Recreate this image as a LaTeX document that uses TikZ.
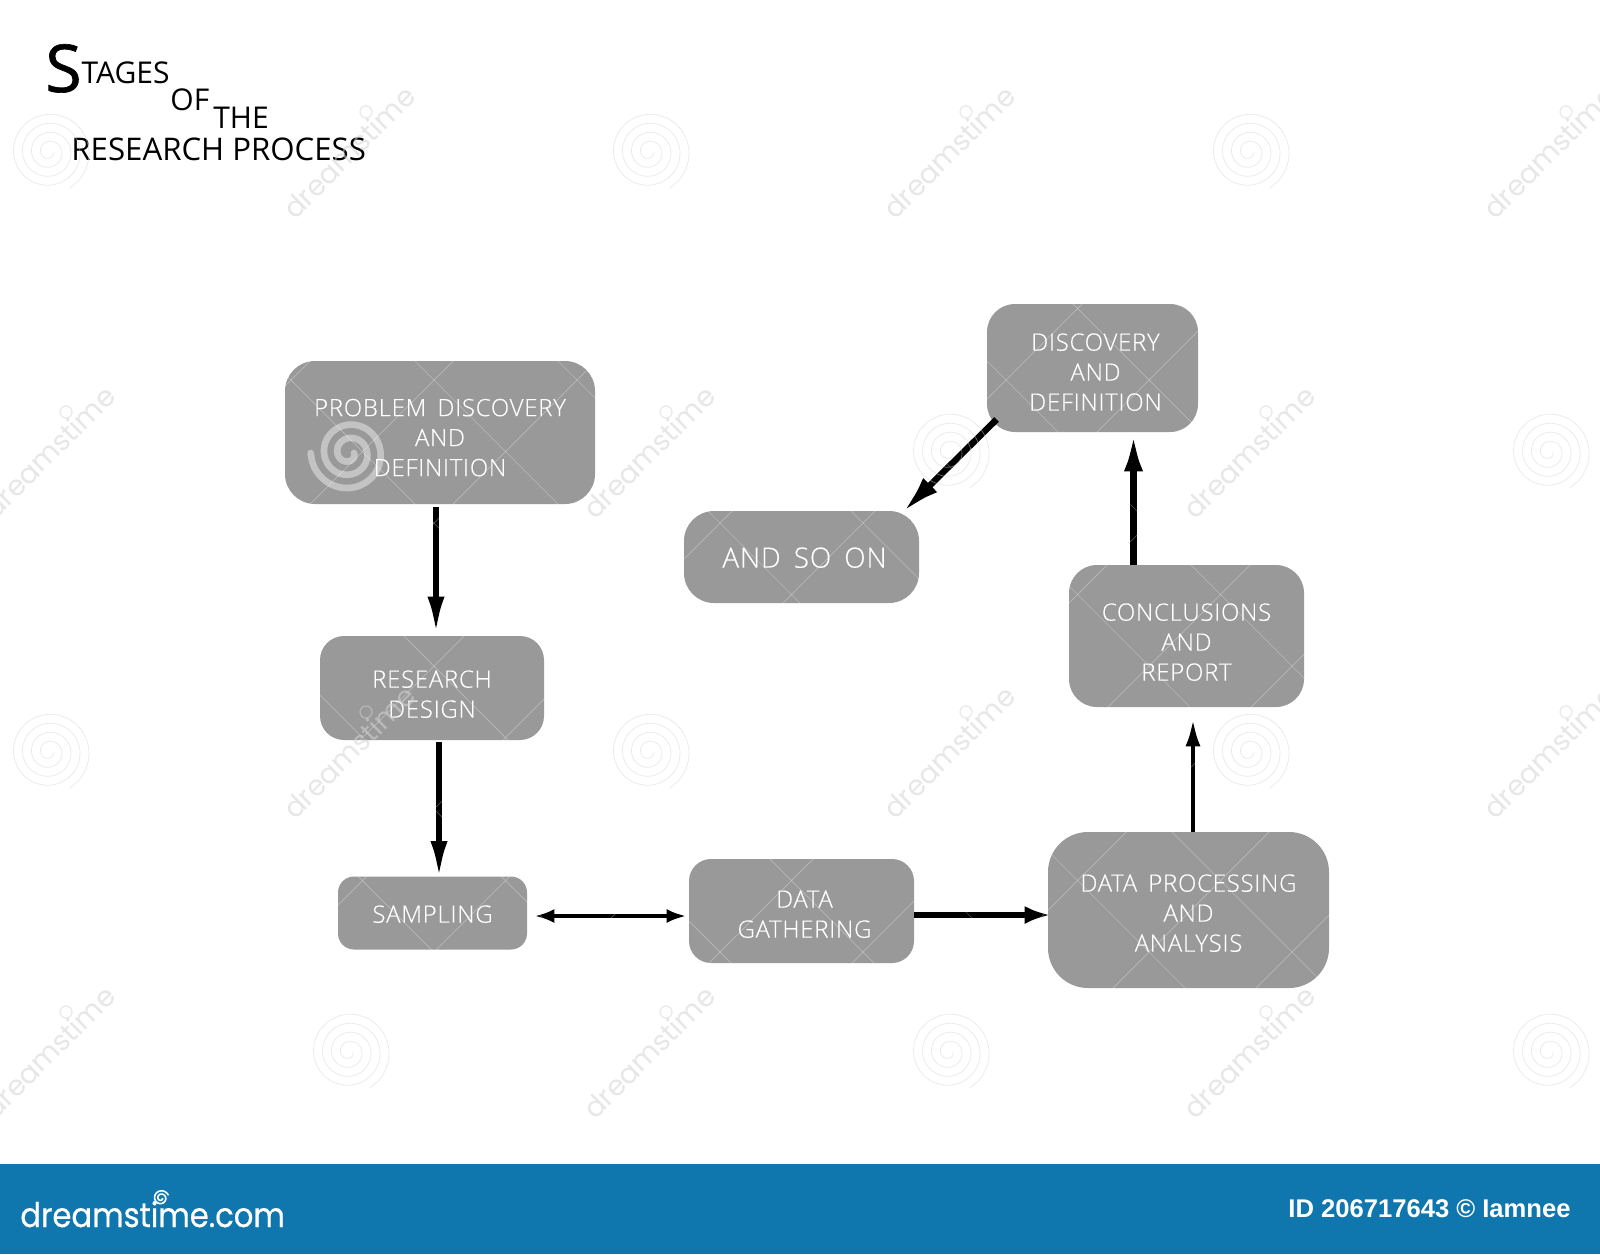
\documentclass[tikz,border=0pt]{standalone}
\usepackage{fontspec}
\setmainfont{Open Sans}
\newfontfamily\boxfont[LetterSpace=3,WordSpace=1.6,FakeBold=0.25]{Open Sans Light}
\newfontfamily\bigsfont[FakeBold=1]{Open Sans}
\newfontfamily\wmfont{Poppins}
\newfontfamily\logofont[FakeStretch=0.9,FakeBold=0.6]{Poppins}
\newfontfamily\idfont{Liberation Sans}
\usetikzlibrary{arrows.meta}
\definecolor{boxgray}{HTML}{999999}
\definecolor{barblue}{HTML}{0F76AE}
\definecolor{wmgray}{HTML}{D4D4D4}
\newcommand\dnb[1]{\rule{0pt}{\dimexpr8.8pt+#1pt\relax}}
\newcommand\rgt{\hspace*{3pt}}
\tikzset{
  x=0.5pt,y=-0.5pt,
  stage/.style={fill=boxgray,text=white,inner sep=0pt,align=center,rounded corners=#1,
    font=\boxfont\fontsize{12}{15}\selectfont},
  titletext/.style={anchor=base west,inner sep=0pt,text=black,font=\fontsize{15}{16}\selectfont},
  bigflow/.style={line width=3pt,-{Latex[length=19pt,width=8.5pt]},black},
  midflow/.style={line width=3.4pt,-{Latex[length=13pt,width=9pt]},black},
  twoway/.style={line width=2.2pt,{Latex[length=10pt,width=7pt]}-{Latex[length=10pt,width=7pt]},black},
  wmline/.style={draw=white,line width=0.35pt,opacity=.3},
  wmring/.style={draw=wmgray,line width=0.35pt,opacity=.5},
  wmtext/.style={text=wmgray,text opacity=.55,rotate=45,inner sep=0pt,font=\wmfont\fontsize{14}{14}\selectfont},
}
\begin{document}
\begin{tikzpicture}
\useasboundingbox (0,0) rectangle (1600,1254);
\fill[white] (0,0) rectangle (1600,1254);
% title
\node[titletext] (tstages) at (45,92) {\bigsfont\fontsize{33}{33}\selectfont S\raisebox{4.5pt}{\normalfont\fontsize{15}{16}\selectfont TAGES}};
\node[titletext] (tof) at (170,110.5) {OF};
\node[titletext] (tthe) at (213,128) {THE};
\node[titletext,font=\fontsize{15.6}{16}\selectfont] (tproc) at (71,160) {RESEARCH PROCESS};
% bottom band
\fill[barblue] (0,1164) rectangle (1600,1254);
\node[anchor=base west,inner sep=0pt,text=white,font=\logofont\fontsize{17}{17}\selectfont] (logo) at (20,1227) {dreamstime.com};
\draw[white,line width=0.8pt] plot[smooth,domain=0:700,samples=40] ({161+(1.5+\x/110)*cos(\x)},{1198+(1.5+\x/110)*sin(\x)});
\node[anchor=base east,inner sep=0pt,text=white,font=\idfont\bfseries\fontsize{12.8}{13}\selectfont] (idtext) at (1571,1217) {ID 206717643 © Iamnee};
% stages
\node[stage=15pt,minimum width=155pt,minimum height=71.5pt] (prob) at (440,432.5)
  {\dnb{5}PROBLEM DISCOVERY\\AND\\DEFINITION};
\node[stage=12pt,minimum width=112pt,minimum height=52pt] (res) at (432,688)
  {\dnb{6}RESEARCH\\DESIGN};
\node[stage=8pt,minimum width=94.5pt,minimum height=36.5pt] (samp) at (432.5,913)
  {\dnb{1}SAMPLING};
\node[stage=11pt,minimum width=112.5pt,minimum height=52pt] (gath) at (801.5,911)
  {\dnb{3}\rgt DATA\\\rgt GATHERING};
\node[stage=20pt,minimum width=140.5pt,minimum height=78pt] (proc) at (1188.5,910)
  {\dnb{3}DATA PROCESSING\\AND\\ANALYSIS};
\node[stage=14pt,minimum width=117.5pt,minimum height=71pt] (conc) at (1186.5,636)
  {\dnb{6}CONCLUSIONS\\AND\\REPORT};
\node[stage=14pt,minimum width=105.5pt,minimum height=64pt] (disc) at (1092.5,368)
  {\dnb{4}\rgt DISCOVERY\\\rgt AND\\\rgt DEFINITION};
\node[stage=15pt,minimum width=117.5pt,minimum height=46pt,font=\boxfont\fontsize{14}{15}\selectfont] (more) at (801.5,557)
  {\dnb{2}\rgt AND SO ON};
% connectors
\draw[bigflow,shorten <=1.5pt,shorten >=0.5pt] ([xshift=-2pt]prob.south) -- ([xshift=2pt]res.north);
\draw[bigflow,shorten <=1pt,shorten >=-1.5pt] ([xshift=3.5pt]res.south) -- ([xshift=3.25pt]samp.north);
\draw[twoway,shorten <=3.5pt,shorten >=1pt] ([yshift=-1.5pt]samp.east) -- ([yshift=-2.5pt]gath.west);
\draw[midflow,shorten >=-1.5pt] ([yshift=-2pt]gath.east) -- ([yshift=-2.5pt]proc.west);
\draw[line width=2.4pt,-{Latex[length=14pt,width=7.5pt]},shorten >=5.5pt] ([xshift=2.25pt]proc.north) -- ([xshift=3.25pt]conc.south);
\draw[line width=3.4pt,-{Latex[length=19pt,width=9.5pt]},shorten >=0.5pt] ([xshift=-26.5pt]conc.north) -- ([xshift=20.5pt]disc.south);
\draw[line width=3.2pt,-{Latex[length=19pt,width=10pt]},shorten >=-3pt] ([xshift=5pt,yshift=6.5pt]disc.south west) -- ([xshift=-6pt,yshift=1.5pt]more.north east);
% watermark: diagonal hairlines
\foreach \k in {-5,...,8} {
  \pgfmathsetmacro\ca{1243+143*\k}
  \draw[wmline] (\ca-295,295) -- (\ca-1000,1000);
}
\foreach \k in {-6,...,6} {
  \pgfmathsetmacro\cb{197+143*\k}
  \draw[wmline] (\cb+295,295) -- (\cb+1000,1000);
}
% watermark: spirals
\foreach \cx/\cy in {49/152,649/152,1249/152,949/452,1549/452,49/752,649/752,1249/752,349/1052,949/1052,1549/1052} {
  \draw[wmring] plot[smooth,domain=0:1500,samples=90] ({\cx+(4+\x/40)*cos(\x)},{\cy+(4+\x/40)*sin(\x)});
}
\draw[white,opacity=.42,line width=3.3pt,line cap=round] plot[smooth,domain=0:900,samples=70] ({349+(5+\x/27)*cos(\x)},{453+(5+\x/27)*sin(\x)});
% watermark: words
\foreach \cx/\cy [count=\n] in {349/152,949/152,1549/152,49/452,649/452,1249/452,349/752,949/752,1549/752,49/1052,649/1052,1249/1052} {
  \node[wmtext] (wm\n) at (\cx,\cy) {dreamstime};
  \draw[wmring,line width=0.6pt] (\cx+17,\cy-40) circle (6);
}
\end{tikzpicture}
\end{document}
